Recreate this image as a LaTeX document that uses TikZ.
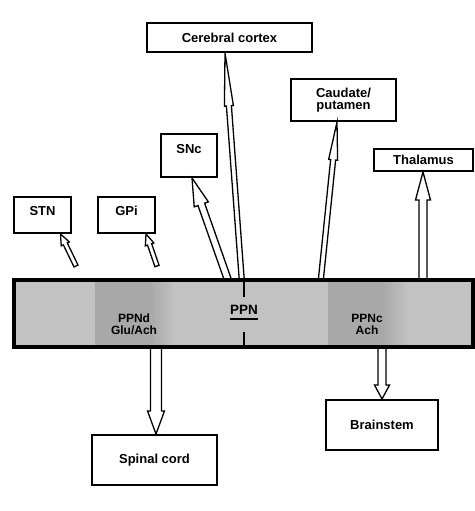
\documentclass[tikz,border=0pt]{standalone}
\usepackage{fontspec}
\setmainfont{Liberation Sans}
\usetikzlibrary{calc}
\definecolor{barbase}{gray}{0.76}
\definecolor{bardark}{gray}{0.66}
\tikzset{
  box/.style={draw=black, line width=2pt, fill=white, inner sep=0pt, align=center,
    font=\fontsize{13}{12}\selectfont\bfseries},
  arrowline/.style={draw=black, fill=white, line width=1.3pt, line join=miter},
  barframe/.style={draw=black, line width=3.5pt},
  divider/.style={draw=black, line width=2pt},
  barlabel/.style={align=center, font=\fontsize{12}{12}\selectfont\bfseries}
}
\newcommand{\hollowarrow}[5]{%
  \coordinate (hb) at ($(#2)!#5!(#1)$);
  \draw [arrowline] ($(#1)!#3!90:(#2)$) -- ($(hb)!#3!90:(#2)$) -- ($(hb)!#4!90:(#2)$) -- (#2)
    -- ($(hb)!#4!-90:(#2)$) -- ($(hb)!#3!-90:(#2)$) -- ($(#1)!#3!-90:(#2)$) -- cycle;
}
\begin{document}
\begin{tikzpicture}[x=1pt,y=1pt]
\tikzstyle{every node}+=[inner sep=0pt]
\useasboundingbox (0,0) rectangle (474,-511);
\node [box, minimum width=165, minimum height=29] (cortex) at (229.5,-37.5) {Cerebral cortex};
\node [box, minimum width=105, minimum height=42] (caudate) at (343.5,-100) {Caudate/\\putamen};
\node [box, minimum width=56, minimum height=43, text height=19.3, text depth=23.7] (snc) at (189,-155.5) {SNc};
\node [box, minimum width=99, minimum height=22] (thalamus) at (423.5,-160) {Thalamus};
\node [box, minimum width=57, minimum height=36, text height=18, text depth=18] (stn) at (42.5,-215) {STN};
\node [box, minimum width=57, minimum height=36, text height=18, text depth=18] (gpi) at (126.5,-215) {GPi};
\node [box, minimum width=112, minimum height=50] (brainstem) at (382,-425) {Brainstem};
\node [box, minimum width=125, minimum height=50] (spinal) at (154.5,-460) {Spinal cord};
\coordinate (stnfoot) at (76,-266);
\coordinate (gpifoot) at (157,-266);
\coordinate (sncfoot) at (229,-283);
\coordinate (cortexfoot) at (242,-283);
\coordinate (caudatefoot) at (320.5,-283);
\coordinate (thalamusfoot) at (423,-283);
\coordinate (spinalfoot) at (156,-344);
\coordinate (brainstemfoot) at (382,-344);
\hollowarrow{stnfoot}{[xshift=18]stn.south}{2.2pt}{4.5pt}{11pt}
\hollowarrow{gpifoot}{[xshift=19.5]gpi.south}{2.2pt}{4.5pt}{11pt}
\hollowarrow{sncfoot}{[xshift=3]snc.south}{3.5pt}{7.5pt}{28pt}
\hollowarrow{cortexfoot}{[xshift=-4.5]cortex.south}{2.5pt}{4.5pt}{53pt}
\hollowarrow{caudatefoot}{[xshift=-6.5]caudate.south}{2.5pt}{4.5pt}{38pt}
\hollowarrow{thalamusfoot}{[xshift=-0.5]thalamus.south}{4pt}{7.5pt}{28pt}
\hollowarrow{spinalfoot}{[xshift=1.5]spinal.north}{5.5pt}{8.5pt}{23pt}
\hollowarrow{brainstemfoot}{brainstem.north}{4pt}{7.5pt}{14pt}
\node [fill=barbase, minimum width=459, minimum height=67] (ppn) at (243.5,-313.5) {};
\fill [bardark] (95,-280) rectangle (150,-347);
\shade [left color=bardark, right color=barbase] (150,-280) rectangle (174,-347);
\fill [bardark] (328,-280) rectangle (383,-347);
\shade [left color=bardark, right color=barbase] (383,-280) rectangle (407,-347);
\draw [barframe] (ppn.north west) rectangle (ppn.south east);
\draw [divider] (ppn.north) -- ++(0,-17);
\draw [divider] (ppn.south) -- ++(0,15);
\node [font=\fontsize{13.5}{13.5}\selectfont\bfseries] (ppnname) at (244,-310) {PPN};
\draw [line width=1.6] ([yshift=-4]ppnname.south west) -- ([yshift=-4]ppnname.south east);
\node [barlabel] (ppnd) at (134,-324.5) {PPNd\\Glu/Ach};
\node [barlabel] (ppnc) at (367,-324.5) {PPNc\\Ach};
\end{tikzpicture}
\end{document}
